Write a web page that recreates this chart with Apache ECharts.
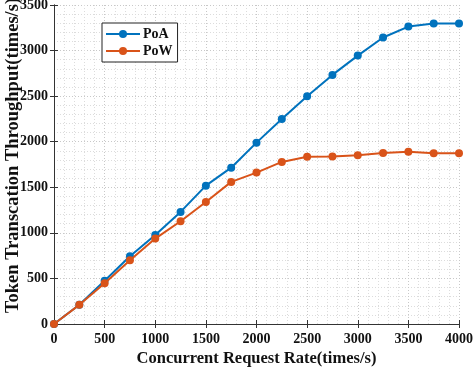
<!DOCTYPE html>
<html>
<head>
<meta charset="utf-8">
<script src="https://cdn.jsdelivr.net/npm/echarts@6/dist/echarts.min.js"></script>
<style>html,body{margin:0;padding:0;background:#fff}#c{width:474px;height:367px}</style>
</head>
<body>
<div id="c"></div>
<script>
const requestRates = [0,250,500,750,1000,1250,1500,1750,2000,2250,2500,2750,3000,3250,3500,3750,4000];
const poaThroughput = [0,212,475,743,977,1230,1518,1715,1990,2250,2500,2733,2945,3143,3263,3298,3298];
const powThroughput = [0,210,447,699,937,1127,1339,1559,1661,1778,1836,1838,1852,1877,1891,1873,1873];
const xTicks = [0,500,1000,1500,2000,2500,3000,3500,4000];
const yTicks = [0,500,1000,1500,2000,2500,3000,3500];

const FONT = 'Liberation Serif';
const chart = echarts.init(document.getElementById('c'), null, {renderer:'canvas'});
const gridLine = {show:true, lineStyle:{color:'#c8c8c8', type:[1,2], width:1}};
const minorLine = {show:true, lineStyle:{color:'#dcdcdc', type:[1,2], width:1}};
const plain = v => String(v);
chart.setOption({
  animation:false,
  backgroundColor:'#fff',
  grid:{left:54, right:15, top:5, bottom:43, containLabel:false, outerBoundsMode:'none'},
  legend:{
    orient:'vertical', left:102, top:23,
    data:['PoA','PoW'],
    borderColor:'#222', borderWidth:1, backgroundColor:'#fff',
    padding:[4,5,4,3], itemGap:3, itemWidth:34, itemHeight:10,
    textStyle:{fontFamily:FONT, fontWeight:'bold', fontSize:14, color:'#111', padding:[0,0,0,-2]}
  },
  xAxis:[{
    type:'value', min:xTicks[0], max:xTicks[xTicks.length-1], interval:500,
    name:'Concurrent Request Rate(times/s)', nameLocation:'middle', nameGap:26, nameMoveOverlap:false,
    nameTextStyle:{fontFamily:FONT, fontWeight:'bold', fontSize:16.5, color:'#111'},
    axisLine:{show:true, onZero:false, lineStyle:{color:'#333', width:1}},
    axisTick:{show:true, inside:true, length:4, lineStyle:{color:'#333'}},
    axisLabel:{fontFamily:FONT, fontWeight:'bold', fontSize:14, color:'#111', margin:8, formatter:plain},
    splitLine:gridLine,
    minorTick:{show:false, splitNumber:5},
    minorSplitLine:minorLine
  },{
    type:'value', position:'top', min:xTicks[0], max:xTicks[xTicks.length-1], interval:500,
    axisLine:{show:true, lineStyle:{color:'#333', width:1}},
    axisTick:{show:true, inside:true, length:4, lineStyle:{color:'#333'}},
    axisLabel:{show:false}, splitLine:{show:false}
  }],
  yAxis:[{
    type:'value', min:yTicks[0], max:yTicks[yTicks.length-1], interval:500,
    name:'Token Transcation Throughput(times/s)', nameLocation:'middle', nameGap:31, nameRotate:90, nameMoveOverlap:false,
    nameTextStyle:{fontFamily:FONT, fontWeight:'bold', fontSize:18.5, color:'#111', padding:[0,0,0,18]},
    axisLine:{show:true, onZero:false, lineStyle:{color:'#333', width:1}},
    axisTick:{show:true, inside:true, length:4, lineStyle:{color:'#333'}},
    axisLabel:{fontFamily:FONT, fontWeight:'bold', fontSize:14, color:'#111', margin:6, formatter:plain},
    splitLine:gridLine,
    minorTick:{show:false, splitNumber:5},
    minorSplitLine:minorLine
  },{
    type:'value', position:'right', min:yTicks[0], max:yTicks[yTicks.length-1], interval:500,
    axisLine:{show:true, lineStyle:{color:'#333', width:1}},
    axisTick:{show:true, inside:true, length:4, lineStyle:{color:'#333'}},
    axisLabel:{show:false}, splitLine:{show:false}
  }],
  series:[{
    name:'PoA', type:'line', xAxisIndex:0, yAxisIndex:0,
    data:requestRates.map((x,i)=>[x,poaThroughput[i]]),
    symbol:'circle', symbolSize:8,
    lineStyle:{color:'#0072BD', width:2}, itemStyle:{color:'#0072BD'}, z:3
  },{
    name:'PoW', type:'line', xAxisIndex:0, yAxisIndex:0,
    data:requestRates.map((x,i)=>[x,powThroughput[i]]),
    symbol:'circle', symbolSize:8,
    lineStyle:{color:'#D95319', width:2}, itemStyle:{color:'#D95319'}, z:4
  }]
});
</script>
</body>
</html>
